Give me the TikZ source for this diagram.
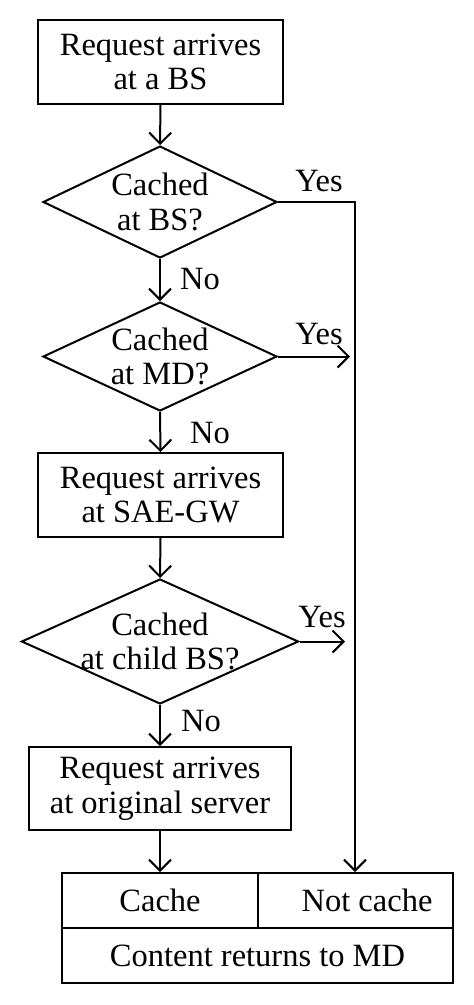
\documentclass[tikz,border=0pt]{standalone}
\usepackage{fontspec}
\setmainfont{Liberation Serif}
\usetikzlibrary{shapes.geometric,arrows.meta}
\begin{document}
\begin{tikzpicture}[x=1pt,y=-1pt,
  line width=2pt,
  txt/.style={font=\fontsize{32.5}{34.5}\selectfont, align=center, inner sep=0pt},
  boxn/.style={draw, rectangle, inner sep=0pt},
  dia/.style={draw, diamond, inner sep=0pt},
  arr/.style={-{Straight Barb[length=11pt,width=22pt,line width=2pt]}},
  lbl/.style={font=\fontsize{32.5}{34.5}\selectfont, inner sep=0pt}]
\useasboundingbox (0,0) rectangle (474,1005);
% boxes
\node[boxn, minimum width=245pt, minimum height=84pt] (b1) at (160.5,62) {};
\node[txt] at (b1) {Request arrives\\at a BS};
\node[dia, minimum width=234pt, minimum height=112pt] (d1) at (160,202) {};
\node[txt] at (d1) {Cached\\at BS?};
\node[dia, minimum width=234pt, minimum height=109pt] (d2) at (160,356.5) {};
\node[txt] at (d2) {Cached\\at MD?};
\node[boxn, minimum width=245pt, minimum height=84pt] (b2) at (160.5,495) {};
\node[txt] at (b2) {Request arrives\\at SAE-GW};
\node[dia, minimum width=277pt, minimum height=125pt] (d3) at (160,641.5) {};
\node[txt] at (d3) {Cached\\at child BS?};
\node[boxn, minimum width=262pt, minimum height=83pt] (b3) at (160,788.5) {};
\node[txt] at (b3) {Request arrives\\at original server};
% bottom table
\node[boxn, minimum width=196pt, minimum height=55pt] (ca) at (160,900.5) {};
\node[txt] at (ca) {Cache};
\node[boxn, minimum width=195pt, minimum height=55pt] (nc) at (355.5,900.5) {};
\node[txt] at (367,900.5) {Not cache};
\node[boxn, minimum width=391pt, minimum height=55pt] (ct) at (257.5,955.5) {};
\node[txt] at (ct) {Content returns to MD};
% coordinates
\coordinate (r1) at (355,202);
\coordinate (y2) at (350,356.5);
\coordinate (y3) at (345,641.5);
% connectors
\draw[arr] (b1.south) -- (d1.north);
\draw[arr] (d1.south) -- (d2.north);
\draw[arr] (d2.south) -- (b2.north);
\draw[arr] (b2.south) -- (d3.north);
\draw[arr] (d3.south) -- (b3.north);
\draw[arr] (b3.south) -- (ca.north);
\draw[arr] (d1.east) -- (r1) -- (r1 |- nc.north);
\draw[arr] (d2.east) -- (y2);
\draw[arr] (d3.east) -- (y3);
% labels
\node[lbl] at (319,181) {Yes};
\node[lbl] at (319,334) {Yes};
\node[lbl] at (322,617) {Yes};
\node[lbl] at (200,279) {No};
\node[lbl] at (210,433) {No};
\node[lbl] at (201,721) {No};
\end{tikzpicture}
\end{document}
